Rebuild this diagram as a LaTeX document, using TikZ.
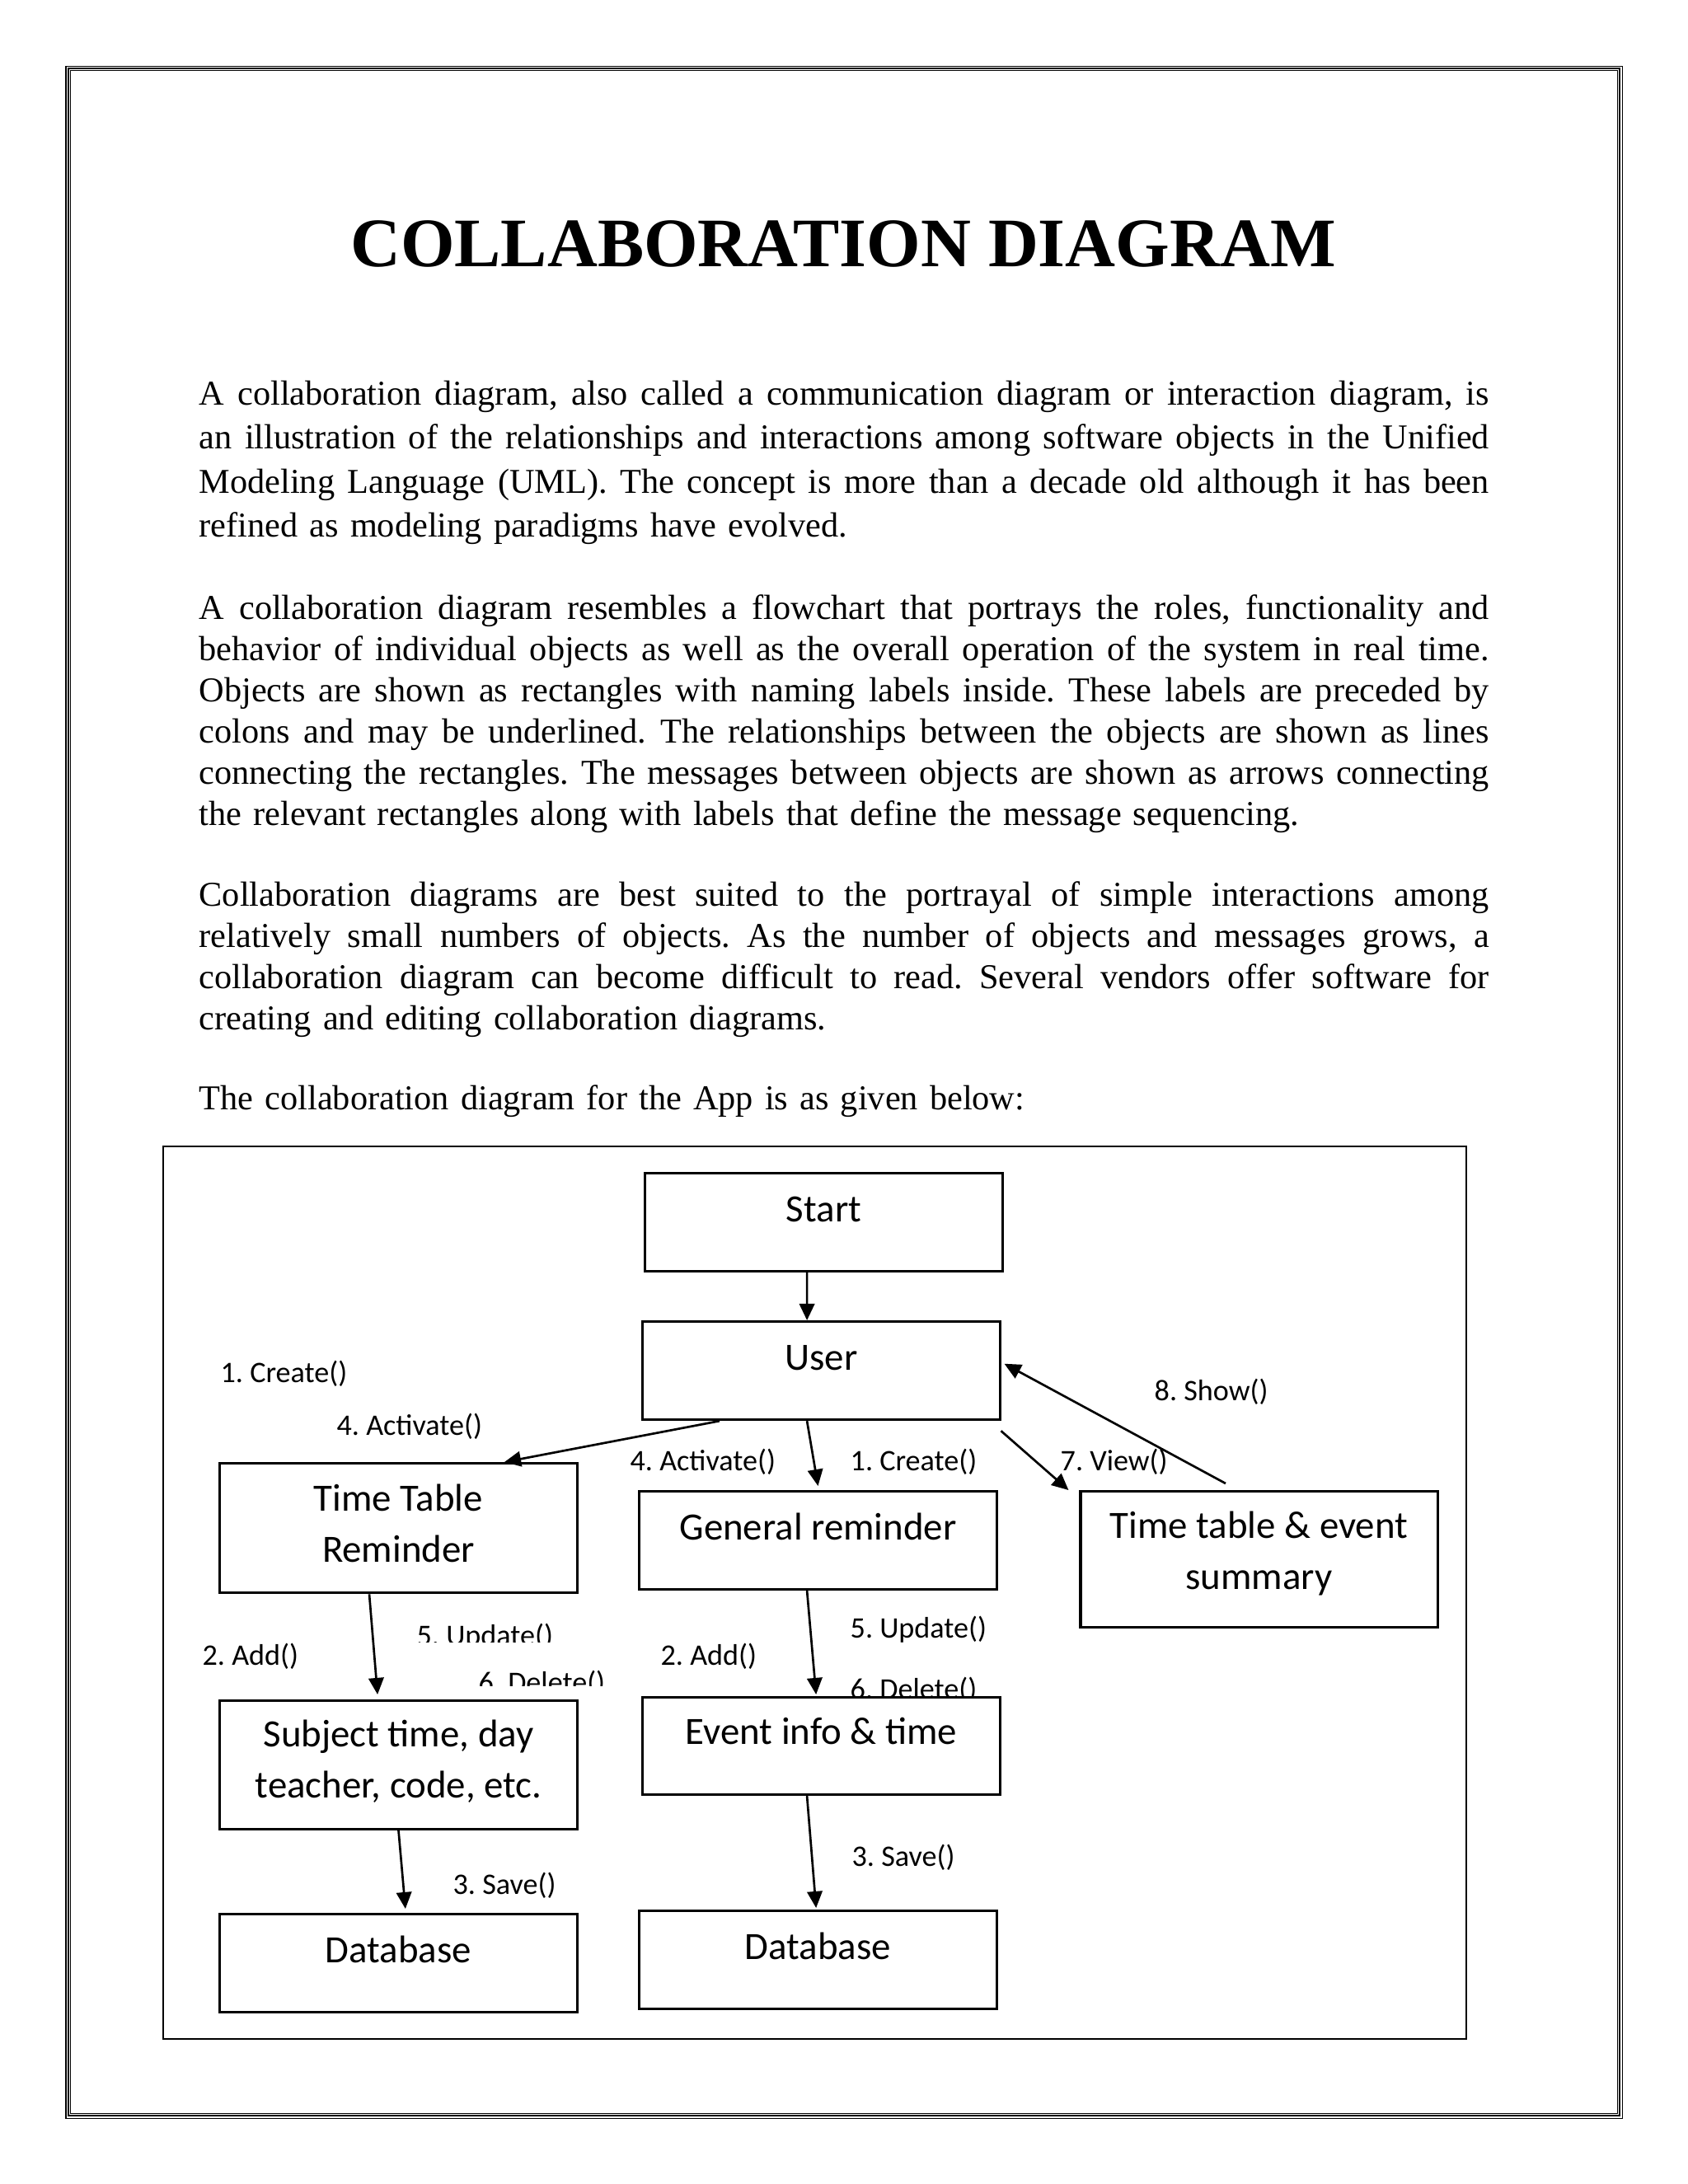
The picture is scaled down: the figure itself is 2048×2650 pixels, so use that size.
\documentclass[tikz,border=0pt]{standalone}
\usepackage{fontspec}
\setmainfont{Liberation Serif}
\newfontfamily\boxfont{Carlito}
\usetikzlibrary{arrows.meta}
\frenchspacing
\newcommand\jline[1]{\makebox[467.7pt][s]{\spaceskip=0.25em plus 1em minus 0.1em\relax #1}}

\begin{document}
\begin{tikzpicture}[x=0.29883pt,y=-0.29883pt,
  obj/.style={draw,line width=0.9pt,fill=white,minimum width=129.4pt,inner xsep=0pt,inner ysep=0pt,
    text height=17.6pt,text depth=18pt,align=center,anchor=north,
    font=\boxfont\fontsize{14}{18.5}\selectfont},
  msg/.style={line width=0.8pt,-{Triangle[length=6pt,width=5.5pt]}},
  lbl/.style={anchor=base west,inner sep=0pt,font=\boxfont\fontsize{10.8}{13}\selectfont},
  para/.style={anchor=base west,inner sep=0pt,text width=467.7pt,align=left}]
\path[use as bounding box] (0,0) rectangle (2048,2650);
% page border
\draw[line width=0.3pt] (80,80) rectangle (1968,2570);
\draw[line width=0.6pt] (83,83) rectangle (1965,2567);
\draw[line width=0.3pt] (85.5,85.5) rectangle (1962.5,2564.5);
% title and text
\node[anchor=base,inner sep=0pt,font=\bfseries\fontsize{25.2}{30}\selectfont] (title) at (1023,323) {COLLABORATION DIAGRAM};
\node[para,font=\fontsize{12.65}{16}\selectfont] (p1) at (241,491) {%
\jline{A collaboration diagram, also called a communication diagram or interaction diagram, is}\\
\jline{an illustration of the relationships and interactions among software objects in the Unified}\\
\jline{Modeling Language (UML). The concept is more than a decade old although it has been}\\
refined as modeling paradigms have evolved.};
\node[para,font=\fontsize{12.65}{15}\selectfont] (p2) at (241,751) {%
\jline{A collaboration diagram resembles a flowchart that portrays the roles, functionality and}\\
\jline{behavior of individual objects as well as the overall operation of the system in real time.}\\
\jline{Objects are shown as rectangles with naming labels inside. These labels are preceded by}\\
\jline{colons and may be underlined. The relationships between the objects are shown as lines}\\
\jline{connecting the rectangles. The messages between objects are shown as arrows connecting}\\
the relevant rectangles along with labels that define the message sequencing.};
\node[para,font=\fontsize{12.65}{15}\selectfont] (p3) at (241,1099) {%
\jline{Collaboration diagrams are best suited to the portrayal of simple interactions among}\\
\jline{relatively small numbers of objects. As the number of objects and messages grows, a}\\
\jline{collaboration diagram can become difficult to read. Several vendors offer software for}\\
creating and editing collaboration diagrams.};
\node[para,font=\fontsize{12.65}{15}\selectfont] (p4) at (241,1346) {The collaboration diagram for the App is as given below:};
% diagram frame
\draw[line width=0.8pt] (198,1391) rectangle (1779,2474);
% objects
\node[obj] (start) at (999.5,1422) {Start};
\node[obj] (user) at (996.5,1602) {User};
\node[obj,text height=35.9pt,text depth=11.1pt] (ttr) at (483.5,1774) {Time Table\\Reminder};
\node[obj] (gen) at (992.5,1808) {General reminder};
\node[obj,text height=35.6pt,text depth=13.7pt] (sum) at (1527.5,1808) {Time table \& event\\summary};
\node[obj,text height=35.3pt,text depth=11.3pt] (subj) at (483.5,2062) {Subject time, day\\teacher, code, etc.};
\node[obj,text height=17pt,text depth=18.3pt] (event) at (996.5,2058) {Event info \& time};
\node[obj] (db1) at (483.5,2321) {Database};
\node[obj] (db2) at (992.5,2317) {Database};
% messages
\draw[msg] ([xshift=-6.1pt]start.south) -- ([xshift=-5.2pt]user.north);
\draw[msg] ([xshift=-36.9pt]user.south) -- ([xshift=38.4pt]ttr.north);
\draw[msg] ([xshift=-5.2pt]user.south) -- ([yshift=1.5pt]gen.north);
\draw[msg] ([yshift=-3.6pt]user.south east) -- ([xshift=-3.9pt]sum.north west);
\draw[msg] ([xshift=-12.1pt,yshift=2.4pt]sum.north) -- ([xshift=1.2pt,yshift=2.5pt]user.east);
\draw[msg] ([xshift=-10.6pt]ttr.south) -- ([xshift=-7.6pt,yshift=1.8pt]subj.north);
\draw[msg] ([xshift=-4pt]gen.south) -- ([xshift=-1.9pt,yshift=0.6pt]event.north);
\draw[msg] (subj.south) -- ([xshift=2.5pt,yshift=1.5pt]db1.north);
\draw[msg] ([xshift=-5.2pt]event.south) -- ([xshift=-0.7pt,yshift=0.6pt]db2.north);
% message labels
\node[lbl] (create1) at (267,1677) {1. Create()};
\node[lbl] (act1) at (408,1741) {4. Activate()};
\node[lbl] (act2) at (764,1784) {4. Activate()};
\node[lbl] (create2) at (1031,1784) {1. Create()};
\node[lbl] (view) at (1286,1784) {7. View()};
\node[lbl] (show) at (1400,1699) {8. Show()};
\node[lbl] (add1) at (245,2020) {2. Add()};
\node[lbl] (add2) at (801,2020) {2. Add()};
\node[lbl] (upd2) at (1031,1987) {5. Update()};
\node[lbl] (save1) at (549,2298) {3. Save()};
\node[lbl] (save2) at (1033,2264) {3. Save()};
\begin{scope}
\clip (480,1950) rectangle (720,1992);
\node[lbl] (upd1) at (505,1996) {5. Update()};
\end{scope}
\begin{scope}
\clip (560,2015) rectangle (760,2045);
\node[lbl] (del1) at (580,2053) {6. Delete()};
\end{scope}
\begin{scope}
\clip (1020,2020) rectangle (1200,2057);
\node[lbl] (del2) at (1031,2061) {6. Delete()};
\end{scope}
\end{tikzpicture}
\end{document}
